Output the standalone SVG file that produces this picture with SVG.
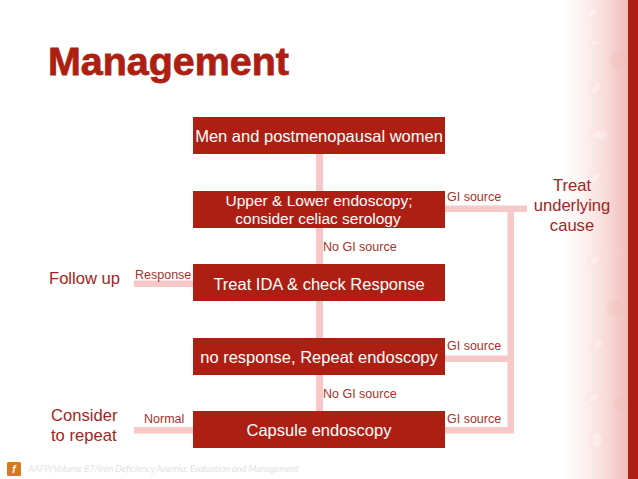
<svg xmlns="http://www.w3.org/2000/svg" width="638" height="479" viewBox="0 0 638 479">
<defs>
<linearGradient id="fade" x1="0" y1="0" x2="1" y2="0">
<stop offset="0" stop-color="#f4c4c2" stop-opacity="0"/>
<stop offset="0.3" stop-color="#f6d0ce" stop-opacity="0.25"/>
<stop offset="0.6" stop-color="#f6d0ce" stop-opacity="0.65"/>
<stop offset="1" stop-color="#f0bdba"/>
</linearGradient>
<filter id="soft" x="-30%" y="-30%" width="160%" height="160%"><feGaussianBlur stdDeviation="1.2"/></filter>
</defs>
<style>
text{font-family:"Liberation Sans",Arial,sans-serif}
.box{fill:#ad1f13}
.w{fill:#fff;font-size:16.5px;text-anchor:middle}
.w2{fill:#fff;font-size:15.5px;text-anchor:middle}
.side{fill:#a3241c;font-size:16.6px}
.lab{fill:#a3332b;font-size:12.5px}
.bar{fill:#f6c8c7}
.cell{fill:#fff;fill-opacity:.3;stroke:#f3bfbd;stroke-opacity:.4;stroke-width:1}
.blob{fill:#f2b9b6;fill-opacity:.35}
</style>
<g id="background">
<rect width="638" height="479" fill="#fff"/>
<rect x="562" width="66" height="479" fill="url(#fade)"/>
<rect x="628" width="10" height="479" fill="#ad1f13"/>
<g filter="url(#soft)">
<ellipse class="cell" cx="592" cy="13" rx="7" ry="4" transform="rotate(-40 592 13)"/>
<ellipse class="cell" cx="595" cy="43" rx="5" ry="3"/>
<ellipse class="cell" cx="596" cy="88" rx="7" ry="4" transform="rotate(-50 596 88)"/>
<ellipse class="cell" cx="600" cy="135" rx="8" ry="6"/>
<ellipse class="cell" cx="595" cy="178" rx="8" ry="4" transform="rotate(-45 595 178)"/>
<ellipse class="cell" cx="598" cy="345" rx="7" ry="4" transform="rotate(-50 598 345)"/>
<ellipse class="cell" cx="593" cy="398" rx="7" ry="4" transform="rotate(-30 593 398)"/>
<ellipse class="cell" cx="597" cy="440" rx="6" ry="8"/>
<ellipse class="cell" cx="595" cy="260" rx="7" ry="4" transform="rotate(-40 595 260)"/>
<circle class="blob" cx="615" cy="308" r="8"/>
<circle class="blob" cx="620" cy="405" r="7"/>
<circle class="blob" cx="618" cy="60" r="9"/>
</g>
</g>
<text id="title" x="48" y="75" font-size="39" font-weight="700" fill="#ad1f13" stroke="#ad1f13" stroke-width="0.8" textLength="241" lengthAdjust="spacingAndGlyphs">Management</text>
<g id="connectors">
<rect class="bar" x="316" y="154" width="7" height="258"/>
<rect class="bar" x="445" y="205.500" width="82" height="6.500"/>
<rect class="bar" x="507.500" y="212" width="6.500" height="221"/>
<rect class="bar" x="445" y="355.500" width="63" height="6.500"/>
<rect class="bar" x="445" y="427" width="69" height="6.500"/>
<rect class="bar" x="134" y="280.500" width="59" height="6.500"/>
<rect class="bar" x="134" y="427" width="59" height="6.500"/>
</g>
<g id="n1"><rect class="box" x="193" y="117" width="252" height="37"/><text class="w" x="319" y="142">Men and postmenopausal women</text></g>
<g id="n2"><rect class="box" x="193" y="191" width="252" height="37"/><text class="w2" x="319" y="206">Upper &amp; Lower endoscopy;</text><text class="w2" x="318" y="224">consider celiac serology</text></g>
<g id="n3"><rect class="box" x="193" y="264" width="252" height="37"/><text class="w" x="319" y="290">Treat IDA &amp; check Response</text></g>
<g id="n4"><rect class="box" x="193" y="338" width="252" height="37"/><text class="w" x="319" y="363">no response, Repeat endoscopy</text></g>
<g id="n5"><rect class="box" x="193" y="411" width="252" height="37"/><text class="w" x="319" y="436">Capsule endoscopy</text></g>
<g id="labels">
<text class="lab" x="447" y="201">GI source</text>
<text class="lab" x="447" y="350">GI source</text>
<text class="lab" x="447" y="423">GI source</text>
<text class="lab" x="323" y="251">No GI source</text>
<text class="lab" x="323" y="398">No GI source</text>
<text class="lab" x="135" y="279">Response</text>
<text class="lab" x="144" y="423">Normal</text>
</g>
<g id="treat"><text class="side" x="572" y="191" text-anchor="middle">Treat</text><text class="side" x="572" y="211" text-anchor="middle">underlying</text><text class="side" x="572" y="231" text-anchor="middle">cause</text></g>
<g id="followup"><text class="side" x="49" y="284">Follow up</text></g>
<g id="repeat"><text class="side" x="51" y="421">Consider</text><text class="side" x="51" y="441">to repeat</text></g>
<g id="footer">
<rect x="7" y="462" width="14" height="14" rx="1.5" fill="#d9791f"/>
<text x="14" y="473" font-size="10" font-style="italic" font-weight="700" fill="#fff" text-anchor="middle">f</text>
<text x="28" y="472" font-size="9.5" font-style="italic" fill="#e3e3e3" textLength="271" style="font-family:Lato,sans-serif">AAFP/Volume 87/Iron Deficiency Anemia: Evaluation and Management</text>
</g>
</svg>
